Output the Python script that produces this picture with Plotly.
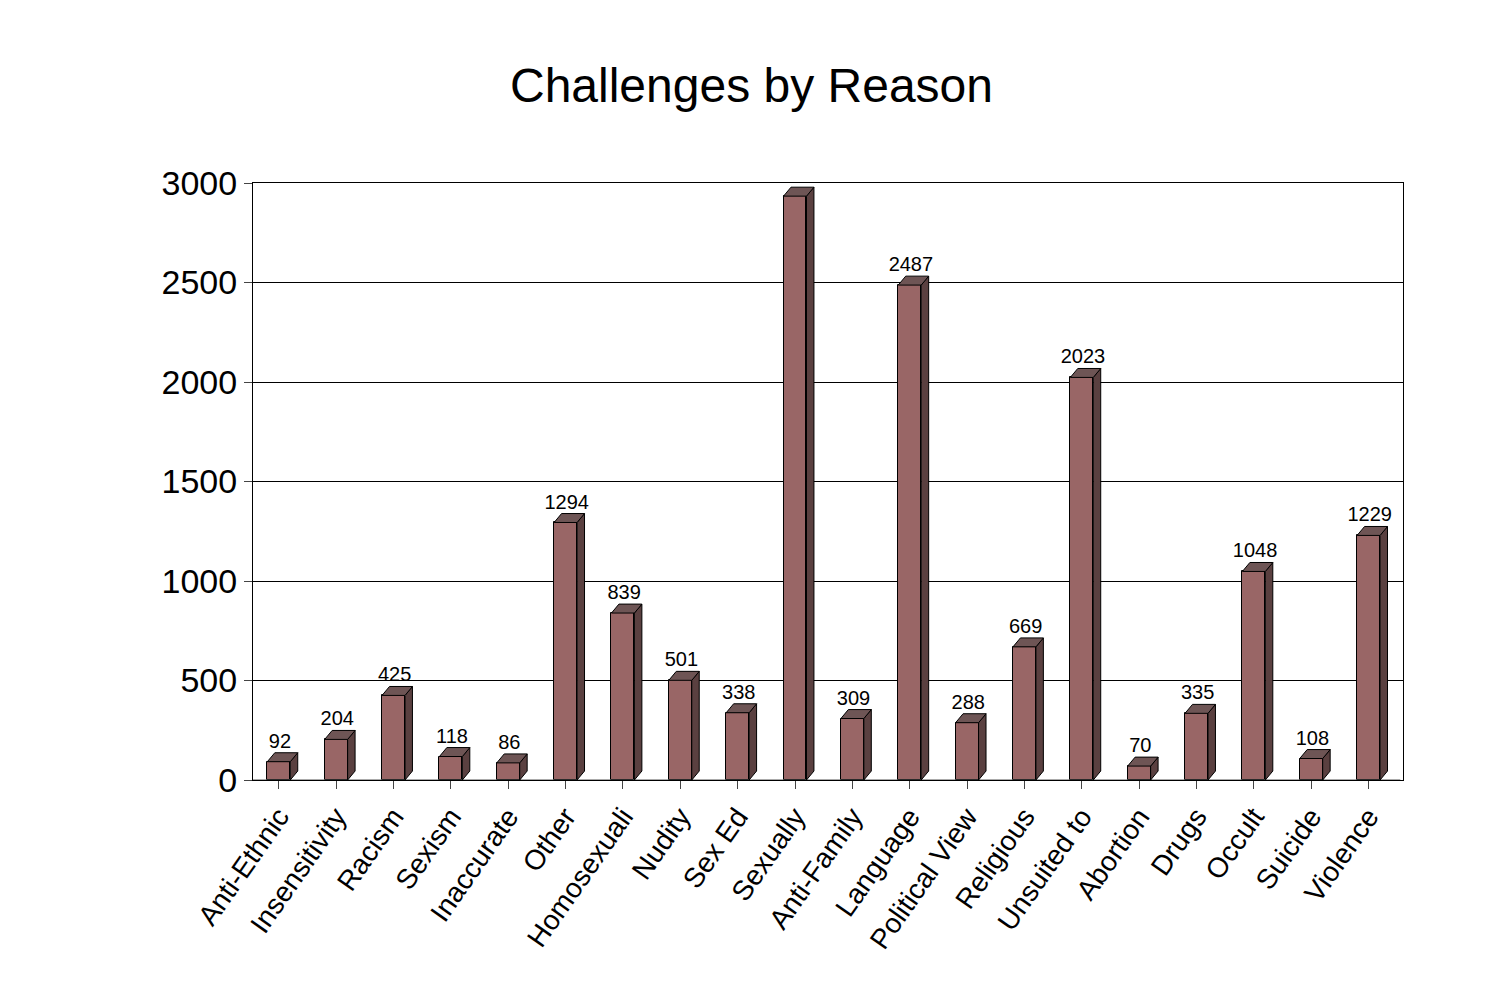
import plotly.graph_objects as go

reasons = ["Anti-Ethnic", "Insensitivity", "Racism", "Sexism", "Inaccurate", "Other",
           "Homosexuali", "Nudity", "Sex Ed", "Sexually", "Anti-Family", "Language",
           "Political View", "Religious", "Unsuited to", "Abortion", "Drugs", "Occult",
           "Suicide", "Violence"]
counts = [92, 204, 425, 118, 86, 1294, 839, 501, 338, 2934, 309, 2487, 288, 669,
          2023, 70, 335, 1048, 108, 1229]

front = "#996666"
side = "#5a4040"
top = "#6e5555"
hw = 0.2   # half bar width
dx = 0.13  # depth offset in x
dy = 45    # depth offset in y

fig = go.Figure()

# floor
fig.add_trace(go.Scatter(x=[-0.45, 19.55, 19.45, -0.55], y=[0, 0, -25, -25], fill="toself",
                         fillcolor="#bbbbbb", line=dict(color="#555555", width=1),
                         mode="lines", hoverinfo="skip", showlegend=False))

for i, v in enumerate(counts):
    fig.add_trace(go.Scatter(x=[i + hw, i + hw + dx, i + hw + dx, i + hw, i + hw],
                             y=[0, dy, v + dy, v, 0], fill="toself", fillcolor=side,
                             line=dict(color="black", width=1), mode="lines",
                             hoverinfo="skip", showlegend=False))
    fig.add_trace(go.Scatter(x=[i - hw, i - hw + dx, i + hw + dx, i + hw, i - hw],
                             y=[v, v + dy, v + dy, v, v], fill="toself", fillcolor=top,
                             line=dict(color="black", width=1), mode="lines",
                             hoverinfo="skip", showlegend=False))

fig.add_trace(go.Bar(x=list(range(len(counts))), y=counts, width=2 * hw,
                     marker=dict(color=front, line=dict(color="black", width=1)),
                     showlegend=False))

fig.add_trace(go.Scatter(x=[i + 0.02 for i in range(len(counts))],
                         y=[v + dy for v in counts], mode="text",
                         text=[str(v) for v in counts], textposition="top center",
                         textfont=dict(size=20, color="black", family="Arial"),
                         showlegend=False, hoverinfo="skip"))

fig.update_layout(
    width=1502, height=1003,
    paper_bgcolor="white", plot_bgcolor="white",
    title=dict(text="Challenges by Reason", x=0.495, y=0.94, xanchor="center",
               font=dict(size=48, family="Arial", color="black")),
    margin=dict(l=245, r=107, t=175, b=231),
    font=dict(family="Arial", color="black"),
    bargap=0,
)
fig.update_xaxes(range=[-0.45, 19.6], tickmode="array", tickvals=list(range(len(counts))),
                 ticktext=reasons, tickangle=-55, tickfont=dict(size=28),
                 showgrid=False, zeroline=False, showline=True, linecolor="black",
                 mirror=True, ticks="outside", ticklen=8)
fig.update_yaxes(range=[0, 3000], tickvals=[0, 500, 1000, 1500, 2000, 2500, 3000],
                 tickfont=dict(size=34), showgrid=True, gridcolor="black", gridwidth=1,
                 zeroline=False, showline=True, linecolor="black", mirror=True,
                 ticks="outside", ticklen=8)

fig.write_html("out.html")
